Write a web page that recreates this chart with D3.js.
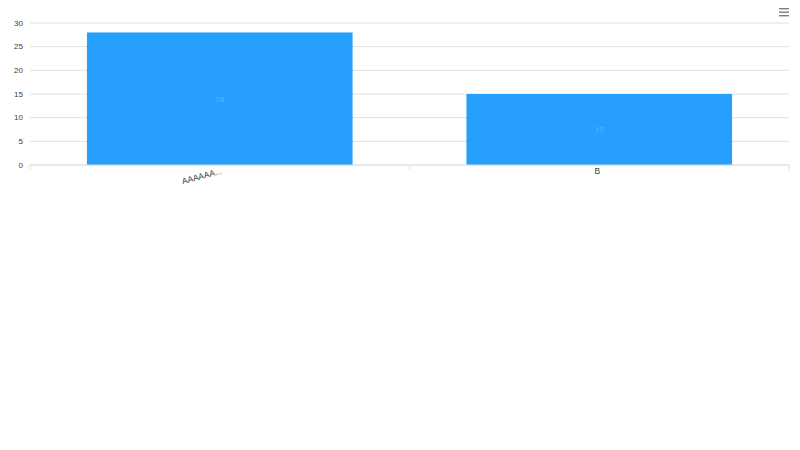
<!DOCTYPE html>
<html>
<head>
<meta charset="utf-8">
<script src="https://cdn.jsdelivr.net/npm/d3@7"></script>
<style>
  body { margin: 0; background: #fff; font-family: Helvetica, Arial, "Liberation Sans", sans-serif; }
</style>
</head>
<body>
<div id="chart"></div>
<script>
// chart data
var categories = ["AAAAAA...", "B"];
var values = [28, 15];
var yTicks = [0, 5, 10, 15, 20, 25, 30];

var width = 800, height = 450;
var margin = { top: 23, right: 11, bottom: 285, left: 30 };
var innerW = width - margin.left - margin.right;
var innerH = height - margin.top - margin.bottom;

var svg = d3.select("#chart").append("svg")
  .attr("width", width)
  .attr("height", height);

var g = svg.append("g")
  .attr("transform", "translate(" + margin.left + "," + margin.top + ")");

var x = d3.scaleBand()
  .domain(categories)
  .range([0, innerW])
  .paddingInner(0.3)
  .paddingOuter(0.15);

var y = d3.scaleLinear()
  .domain([0, 30])
  .range([innerH, 0]);

// gridlines
g.selectAll(".grid")
  .data(yTicks)
  .enter().append("line")
  .attr("x1", 0)
  .attr("x2", innerW)
  .attr("y1", function (d) { return y(d); })
  .attr("y2", function (d) { return y(d); })
  .attr("stroke", "#e0e0e0")
  .attr("stroke-width", 1);

// y labels
g.selectAll(".ylabel")
  .data(yTicks)
  .enter().append("text")
  .attr("x", -7)
  .attr("y", function (d) { return y(d); })
  .attr("dy", "0.35em")
  .attr("text-anchor", "end")
  .attr("font-size", 8)
  .attr("fill", "#373d3f")
  .text(function (d) { return d; });

// bars
g.selectAll(".bar")
  .data(values)
  .enter().append("rect")
  .attr("x", function (d, i) { return x(categories[i]); })
  .attr("y", function (d) { return y(d); })
  .attr("width", x.bandwidth())
  .attr("height", function (d) { return innerH - y(d); })
  .attr("fill", "#008ffb")
  .attr("fill-opacity", 0.85);

// value labels (faint)
g.selectAll(".vlabel")
  .data(values)
  .enter().append("text")
  .attr("x", function (d, i) { return x(categories[i]) + x.bandwidth() / 2; })
  .attr("y", function (d) { return (y(d) + innerH) / 2; })
  .attr("dy", "0.35em")
  .attr("text-anchor", "middle")
  .attr("font-size", 8)
  .attr("fill", "#5ab4fa")
  .text(function (d) { return d; });

// x axis line and ticks
g.append("line")
  .attr("x1", 0).attr("x2", innerW)
  .attr("y1", innerH).attr("y2", innerH)
  .attr("stroke", "#e0e0e0");

var step = innerW / categories.length;
g.selectAll(".xtick")
  .data(d3.range(categories.length + 1))
  .enter().append("line")
  .attr("x1", function (d) { return d * step; })
  .attr("x2", function (d) { return d * step; })
  .attr("y1", innerH)
  .attr("y2", innerH + 5)
  .attr("stroke", "#e0e0e0");

// x labels
g.selectAll(".xlabel")
  .data(categories)
  .enter().append("text")
  .attr("transform", function (d, i) {
    var cx = x(d) + x.bandwidth() / 2;
    return i === 0
      ? "translate(" + (cx - 18) + "," + (innerH + 11) + ") rotate(-15)"
      : "translate(" + (cx - 2) + "," + (innerH + 6) + ")";
  })
  .attr("dy", "0.35em")
  .attr("text-anchor", "middle")
  .attr("font-size", 8.5)
  .attr("fill", "#373d3f")
  .text(function (d) { return d; });

// menu icon
var menu = svg.append("g").attr("transform", "translate(779,8)");
[0, 3.5, 7].forEach(function (dy) {
  menu.append("rect")
    .attr("x", 0).attr("y", dy)
    .attr("width", 10).attr("height", 1.4)
    .attr("fill", "#6e8192");
});
</script>
</body>
</html>
